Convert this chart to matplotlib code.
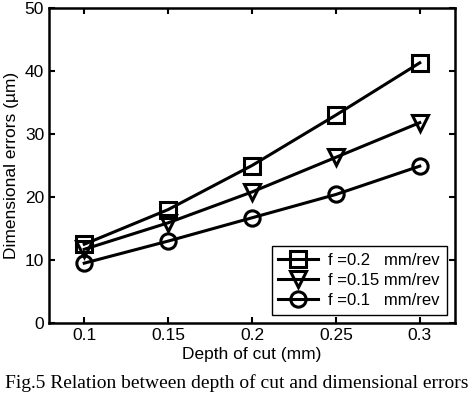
import matplotlib
matplotlib.use("Agg")
import matplotlib.pyplot as plt

# Depth of cut (mm)
depth = [0.1, 0.15, 0.2, 0.25, 0.3]

# Dimensional errors (um) for each feed rate
err_f02 = [12.5, 18.0, 25.0, 33.0, 41.3]
err_f015 = [11.7, 15.9, 20.8, 26.3, 31.8]
err_f01 = [9.5, 13.0, 16.7, 20.4, 24.9]

labels = ["f =0.2   mm/rev", "f =0.15 mm/rev", "f =0.1   mm/rev"]
xticks = [0.1, 0.15, 0.2, 0.25, 0.3]
xticklabels = ["0.1", "0.15", "0.2", "0.25", "0.3"]

plt.rcParams['font.family'] = ['Liberation Sans', 'DejaVu Sans']

fig = plt.figure(figsize=(4.74, 3.98), dpi=100)
ax = fig.add_axes([49 / 474, 1 - 323 / 398, 406 / 474, 315 / 398])

style = dict(color="black", lw=2.2, ms=11, mfc="none", mew=2.2)
ax.plot(depth, err_f02, marker="s", label=labels[0], **style)
ax.plot(depth, err_f015, marker="v", label=labels[1], **style)
ax.plot(depth, err_f01, marker="o", label=labels[2], **style)

ax.set_xlim(0.079, 0.321)
ax.set_ylim(0, 50)
ax.set_xticks(xticks)
ax.set_xticklabels(xticklabels)
ax.set_yticks([0, 10, 20, 30, 40, 50])
ax.tick_params(direction="in", top=True, right=True, labelsize=12.5, width=1.5, length=4)
for s in ax.spines.values():
    s.set_linewidth(1.8)

ax.set_xlabel("Depth of cut (mm)", fontsize=12.5, labelpad=3)
ax.set_ylabel("Dimensional errors (\u00b5m)", fontsize=12.5, labelpad=4)

leg = ax.legend(loc="lower right", fontsize=12, fancybox=False, framealpha=1,
                edgecolor="black", handlelength=2.4, borderaxespad=0.5,
                labelspacing=0.3, handletextpad=0.6)
leg.get_frame().set_linewidth(1.0)

fig.text(0.5, 0.015, "Fig.5 Relation between depth of cut and dimensional errors",
         ha="center", va="bottom", fontsize=14, family="Liberation Serif")

fig.savefig("out.png", dpi=100)
